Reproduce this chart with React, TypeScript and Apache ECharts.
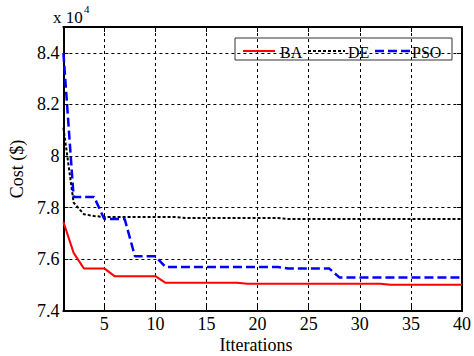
import React, { useEffect, useRef } from "react";
import * as echarts from "echarts";

const iterations = [
  1, 2, 3, 4, 5, 6, 7, 8, 9, 10, 11, 12, 13, 14, 15, 16, 17, 18, 19, 20,
  21, 22, 23, 24, 25, 26, 27, 28, 29, 30, 31, 32, 33, 34, 35, 36, 37, 38, 39, 40,
];

const baCost = [
  77450, 76250, 75650, 75650, 75650, 75350, 75350, 75350, 75350, 75350,
  75090, 75090, 75090, 75090, 75090, 75090, 75090, 75090, 75060, 75060,
  75060, 75060, 75060, 75060, 75060, 75060, 75060, 75060, 75060, 75060,
  75060, 75060, 75020, 75020, 75020, 75020, 75020, 75020, 75020, 75020,
];

const deCost = [
  81100, 78200, 77750, 77680, 77640, 77640, 77640, 77640, 77640, 77640,
  77640, 77640, 77600, 77600, 77600, 77600, 77600, 77600, 77600, 77600,
  77600, 77600, 77560, 77560, 77560, 77560, 77560, 77560, 77560, 77560,
  77560, 77560, 77560, 77560, 77560, 77560, 77560, 77560, 77560, 77560,
];

const psoCost = [
  84000, 78420, 78420, 78420, 77560, 77560, 77560, 76120, 76120, 76120,
  75700, 75700, 75700, 75700, 75700, 75700, 75700, 75700, 75700, 75700,
  75700, 75700, 75650, 75650, 75650, 75650, 75650, 75300, 75300, 75300,
  75300, 75300, 75300, 75300, 75300, 75300, 75300, 75300, 75300, 75300,
];

const xTickValues = [5, 10, 15, 20, 25, 30, 35, 40];
const legendNames = ["BA", "DE", "PSO"];
const xAxisTitle = "Itterations";
const yAxisTitle = "Cost ($)";

const FONT = '"Liberation Serif", "Times New Roman", serif';

export default function App() {
  const ref = useRef<HTMLDivElement>(null);

  useEffect(() => {
    if (!ref.current) return;
    const chart = echarts.init(ref.current, null, { renderer: "svg" });
    const pairs = (vals: number[]) => iterations.map((it, i) => [it, vals[i]]);

    const gridDash = { color: "#000", width: 1, type: [3, 3] as number[] };

    chart.setOption({
      animation: false,
      backgroundColor: "#fff",
      grid: { left: 53, top: 27, right: 10, bottom: 45, containLabel: false },
      xAxis: [
        {
          type: "value",
          position: "bottom",
          min: 1,
          max: 40,
          axisLine: { show: true, onZero: false, lineStyle: { color: "#000", width: 2 } },
          axisTick: { show: true, inside: true, length: 5, customValues: xTickValues, lineStyle: { color: "#000", width: 1 } },
          axisLabel: { customValues: xTickValues, color: "#000", fontFamily: FONT, fontSize: 18, margin: 4 },
          splitLine: { show: true, lineStyle: gridDash },
        },
        {
          type: "value",
          position: "top",
          min: 1,
          max: 40,
          axisLine: { show: true, onZero: false, lineStyle: { color: "#000", width: 2 } },
          axisTick: { show: true, inside: true, length: 5, customValues: xTickValues, lineStyle: { color: "#000", width: 1 } },
          axisLabel: { show: false },
          splitLine: { show: false },
        },
      ],
      yAxis: [
        {
          type: "value",
          position: "left",
          min: 74000,
          max: 85000,
          interval: 2000,
          name: yAxisTitle,
          nameLocation: "middle",
          nameGap: 33,
          nameTextStyle: { fontFamily: FONT, fontSize: 18, color: "#000" },
          axisLine: { show: true, onZero: false, lineStyle: { color: "#000", width: 2 } },
          axisTick: { show: true, inside: true, length: 5, lineStyle: { color: "#000", width: 1 } },
          axisLabel: {
            color: "#000",
            fontFamily: FONT,
            fontSize: 18,
            margin: 4,
            showMaxLabel: false,
            formatter: (v: number) => (v > 84500 ? "" : String(v / 10000)),
          },
          splitLine: { show: true, lineStyle: gridDash },
        },
        {
          type: "value",
          position: "right",
          min: 74000,
          max: 85000,
          interval: 2000,
          axisLine: { show: true, onZero: false, lineStyle: { color: "#000", width: 2 } },
          axisTick: { show: true, inside: true, length: 5, lineStyle: { color: "#000", width: 1 } },
          axisLabel: { show: false },
          splitLine: { show: false },
        },
      ],
      series: [
        {
          name: legendNames[0],
          type: "line",
          data: pairs(baCost),
          showSymbol: false,
          symbol: "none",
          lineStyle: { color: "#ff0000", width: 2 },
          itemStyle: { color: "#ff0000" },
          z: 4,
        },
        {
          name: legendNames[1],
          type: "line",
          data: pairs(deCost),
          showSymbol: false,
          symbol: "none",
          lineStyle: { color: "#000", width: 2, type: [3, 2] },
          itemStyle: { color: "#000" },
          z: 3,
        },
        {
          name: legendNames[2],
          type: "line",
          data: pairs(psoCost),
          showSymbol: false,
          symbol: "none",
          lineStyle: { color: "#0000ff", width: 2.5, type: [9, 4] },
          itemStyle: { color: "#0000ff" },
          z: 5,
        },
      ],
      graphic: [
        {
          type: "text",
          x: 256,
          y: 345,
          style: { text: xAxisTitle, fontFamily: FONT, fontSize: 18, fill: "#000", align: "center", verticalAlign: "middle" },
        },
        {
          type: "text",
          left: 53,
          top: 9,
          style: { text: "x 10", fontFamily: FONT, fontSize: 17, fill: "#000" },
        },
        {
          type: "text",
          left: 84,
          top: 3,
          style: { text: "4", fontFamily: FONT, fontSize: 11, fill: "#000" },
        },
        {
          type: "rect",
          shape: { x: 235, y: 38, width: 217, height: 22 },
          style: { fill: "none", stroke: "#333", lineWidth: 1 },
          z: 10,
        },
        {
          type: "line",
          shape: { x1: 243, y1: 51, x2: 275, y2: 51 },
          style: { stroke: "#ff0000", lineWidth: 2 },
          z: 10,
        },
        {
          type: "text",
          x: 280,
          y: 52,
          style: { text: legendNames[0], fontFamily: FONT, fontSize: 16, fill: "#000", verticalAlign: "middle" },
          z: 10,
        },
        {
          type: "line",
          shape: { x1: 308, y1: 51, x2: 345, y2: 51 },
          style: { stroke: "#000", lineWidth: 2, lineDash: [3, 2] },
          z: 10,
        },
        {
          type: "text",
          x: 348,
          y: 52,
          style: { text: legendNames[1], fontFamily: FONT, fontSize: 16, fill: "#000", verticalAlign: "middle" },
          z: 10,
        },
        {
          type: "line",
          shape: { x1: 375, y1: 51, x2: 410, y2: 51 },
          style: { stroke: "#0000ff", lineWidth: 2.5, lineDash: [9, 4] },
          z: 10,
        },
        {
          type: "text",
          x: 412,
          y: 52,
          style: { text: legendNames[2], fontFamily: FONT, fontSize: 16, fill: "#000", verticalAlign: "middle" },
          z: 10,
        },
      ],
    });

    return () => chart.dispose();
  }, []);

  return <div ref={ref} style={{ width: 474, height: 356, position: "absolute", left: 0, top: 0 }} />;
}
